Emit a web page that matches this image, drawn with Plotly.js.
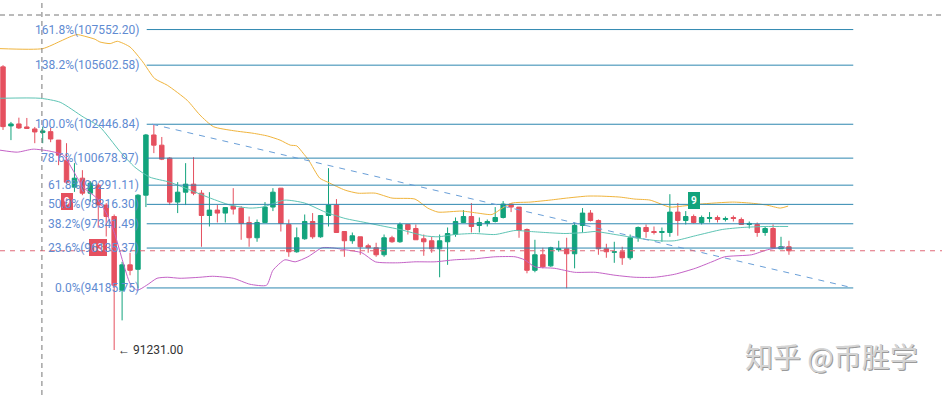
<!DOCTYPE html>
<html><head><meta charset="utf-8">
<script src="https://cdn.plot.ly/plotly-3.0.1.min.js"></script>
<style>html,body{margin:0;padding:0;background:#fff;}#chart{width:942px;height:395px;}</style>
</head><body><div id="chart"></div>
<script>
// ---- candle data (index 0..99) ----
const opens = [105511,102358,102463,102305,102200,102016,102058,101615,100576,99189,
99648,98883,99291,98281,97706,94075,95310,95091,98781,101884,
101351,100679,98432,98934,99342,98883,97756,98028,97877,98230,
98129,97406,96644,97406,98180,99138,97306,95952,96594,97456,
96693,97756,98281,96956,96496,96693,96249,96150,95804,96644,
96446,97306,97106,96594,96496,96100,96446,96806,97406,97706,
97256,97356,97456,97656,98331,98180,97056,95043,95804,95260,
96051,96100,95853,97256,97877,97506,96100,95928,95952,95656,
96644,97156,96956,96906,96906,97927,97506,97706,97406,97606,
97656,97556,97656,97556,97306,97306,96906,97106,96100,96199];
const highs = [105603,102568,102794,102778,102305,102321,102252,101615,101455,100420,
100059,99495,99393,98382,97806,95458,95903,98830,101937,102447,
101779,100731,99444,100420,100731,99036,98934,98281,98180,99138,
98230,97706,97556,98432,99138,99138,97556,97156,97806,97877,
97756,100162,98584,96956,96906,96693,96347,96397,96806,96743,
97406,97306,97306,96806,96693,96806,97156,97656,98028,98382,
97656,97556,98180,98483,98382,98180,97106,96545,96150,96199,
96496,96644,97406,98129,98028,97556,96347,96446,96199,96806,
97206,97306,97206,97156,98832,98382,97978,97806,97756,97927,
97756,97706,97756,97656,97456,97406,97206,97306,96693,96496];
const lows = [102147,101615,102200,102200,101455,101455,101506,100317,99342,98949,
98781,98447,97156,96709,91231,92630,94801,94171,98180,100938,
100576,98281,97877,98281,98781,96199,97206,97406,97406,97806,
96545,96199,96446,97406,97978,96956,95705,95903,96545,96594,
96644,97206,96906,95705,96347,95804,95903,95705,95705,96397,
96397,96806,96545,95755,95903,94704,95310,96693,97406,96906,
96906,97206,97406,97606,97927,96644,94897,94946,95139,95211,
95952,94171,95139,96906,97456,95804,95656,95409,95310,95557,
96446,96644,96806,96446,96693,96743,97306,97356,97306,97406,
97406,97456,97456,97306,97106,96693,96743,96100,96100,95804];
const closes = [102321,102463,102252,102226,102042,102095,101674,100834,99444,99648,
98883,99393,98281,97706,94317,95310,95043,98781,101884,101351,
100627,98432,98934,99342,98883,97756,98028,97877,98154,98079,
97356,96644,97406,98180,98934,97356,95952,96644,97456,96693,
97756,98281,96906,96496,96743,96199,96150,95804,96644,96446,
97306,97056,96545,96446,96100,96496,96856,97456,97706,97206,
97406,97456,97656,98331,98180,97006,95043,95804,95211,96150,
96100,95853,97256,97877,97506,96100,95952,95952,95656,96644,
97156,96956,96906,96956,97927,97506,97706,97406,97656,97656,
97556,97606,97606,97306,97356,96906,97106,96150,96199,96002];

// ---- Bollinger bands (candle index, price) ----
const upperX = [-0.4,5.0,7.2,8.4,9.3,10.3,11.6,12.2,13.5,14.4,16.0,17.6,19.1,20.7,23.2,24.8,26.5,29.0,31.5,33.3,34.9,36.2,37.0,37.8,38.5,39.9,40.9,43.1,44.7,46.9,49.0,51.9,53.5,54.8,57.8,59.8,61.6,62.9,64.1,66.4,68.9,71.0,73.6,75.2,77.7,79.6,81.5,84.0,85.6,87.8,91.9,94.1,96.2,97.9,98.9];
const upperY = [106505,106505,106906,107144,107276,107183,107017,106868,106779,106906,106592,105782,104882,104519,103715,102936,102321,102110,101974,101832,101615,101351,101315,100938,100576,99648,99444,99036,98883,98883,98634,98584,98129,97927,97978,97877,97806,98129,98382,98432,98533,98634,98735,98735,98685,98584,98533,98180,98230,98331,98432,98382,98281,98129,98230];
const middleX = [-0.4,4.7,7.2,10.1,12.2,14.7,16.6,18.5,21.0,23.6,26.1,28.6,31.1,32.7,35.5,38.0,40.6,43.1,45.6,48.1,50.0,53.1,54.8,56.9,59.4,62.0,64.5,66.4,68.3,70.8,73.3,74.6,77.1,79.6,82.5,84.6,87.2,90.6,93.1,96.0,98.9];
const middleY = [103822,103822,103610,102831,102305,101041,100214,99699,99444,99036,98634,98281,98129,98180,98533,98382,97927,97606,97406,97206,97056,96743,96693,96806,96856,96806,97006,96956,96906,96856,96906,96956,96806,96644,96496,96496,96743,97056,97156,97206,97206];
const lowerX = [-0.4,1.8,3.8,5.9,7.6,8.8,10.1,11.8,13.1,14.1,15.1,16.0,16.9,18.1,19.4,20.7,22.3,24.8,26.4,29.0,31.1,33.2,34.0,35.5,36.8,38.4,40.2,41.4,43.1,45.2,46.9,49.7,51.9,54.4,56.9,59.4,62.0,64.5,65.7,67.0,69.5,72.0,74.6,77.1,79.6,82.1,84.6,87.2,89.3,90.9,94.3,96.3,98.5];
const lowerY = [101093,100989,101144,101041,100834,100059,99189,98634,97806,96806,95458,94413,94075,94317,94655,94704,94655,94704,94752,94655,94365,94317,95043,95557,95458,95705,96150,96150,96051,95903,95458,95409,95458,95458,95557,95606,95705,95705,95557,95211,95139,94946,94946,94801,94704,94704,94849,95139,95458,95705,95804,96051,96199];

// ---- Fibonacci retracement ----
const fibLabels = ['161.8%','138.2%','100.0%','78.6%','61.8%','50.0%','38.2%','23.6%','0.0%'];
const fibPrices = [107552.20,105602.58,102446.84,100678.97,99291.11,98316.30,97341.49,96135.37,94185.75];
const fibStart = 18.1, fibEnd = 107.1, trendStart = 18.8;

const lowLabel = '← 91231.00';
const lowIndex = 14, lowPrice = 91231;
const tdMarks = [
  {i: 8, p: 98483, t: '9', c: '#e5505f'},
  {i: 12, p: 96175, t: '13', c: '#e5505f'},
  {i: 87, p: 98533, t: '9', c: '#12a37c'}
];
const cursorIndex = 4.9;
const lastPrice = closes[closes.length - 1];

const idx = opens.map((_, i) => i);
const GREEN = '#12a37c', RED = '#e5505f';

const traces = [
  {type:'scatter', mode:'lines', x: upperX, y: upperY, line:{color:'#f0b43c', width:1, shape:'spline', smoothing:0.6}, hoverinfo:'skip'},
  {type:'scatter', mode:'lines', x: middleX, y: middleY, line:{color:'#5ec4b4', width:1, shape:'spline', smoothing:0.6}, hoverinfo:'skip'},
  {type:'scatter', mode:'lines', x: lowerX, y: lowerY, line:{color:'#c462c6', width:1, shape:'spline', smoothing:0.6}, hoverinfo:'skip'},
  {type:'candlestick', x: idx, open: opens, high: highs, low: lows, close: closes,
   increasing:{line:{color:GREEN, width:1}, fillcolor:GREEN},
   decreasing:{line:{color:RED, width:1}, fillcolor:RED},
   whiskerwidth:0, hoverinfo:'skip'}
];

const shapes = [];
fibPrices.forEach(p => shapes.push({type:'line', xref:'x', yref:'y', x0:fibStart, x1:fibEnd, y0:p, y1:p, line:{color:'#2e87b0', width:1}}));
shapes.push({type:'line', xref:'x', yref:'y', x0:trendStart, x1:fibEnd, y0:fibPrices[2], y1:fibPrices[8], line:{color:'#6a9fd8', width:1, dash:'6px,6px'}});
shapes.push({type:'line', xref:'paper', yref:'y', x0:0, x1:1, y0:lastPrice, y1:lastPrice, line:{color:'#e06a78', width:1, dash:'5px,5px'}});
shapes.push({type:'line', xref:'x', yref:'paper', x0:cursorIndex, x1:cursorIndex, y0:0, y1:1, line:{color:'#777', width:1, dash:'5px,4px'}});
shapes.push({type:'line', xref:'paper', yref:'paper', x0:0, x1:1, y0:0.962, y1:0.962, line:{color:'#777', width:1, dash:'5px,4px'}});

const annotations = [];
tdMarks.forEach(m => annotations.push({x:m.i, y:Math.log10(m.p), xref:'x', yref:'y', text:'<b>'+m.t+'</b>', showarrow:false,
  bgcolor:m.c, bordercolor:m.c, borderpad:2, font:{family:'Roboto, sans-serif', size:10, color:'#fff'}}));
fibLabels.forEach((l, k) => annotations.push({x:fibStart, y:Math.log10(fibPrices[k]), xref:'x', yref:'y', xanchor:'right', yanchor:'middle', xshift:-6,
  text: l + '(' + fibPrices[k].toFixed(2) + ')', showarrow:false, font:{family:'Roboto, sans-serif', size:12, color:'#5f8bd2'}}));
annotations.push({x:lowIndex, y:Math.log10(lowPrice), xref:'x', yref:'y', xanchor:'left', yanchor:'middle', xshift:2, text: lowLabel, showarrow:false,
  font:{family:'Roboto, sans-serif', size:12, color:'#333'}});
annotations.push({x:0.883, y:0.10, xref:'paper', yref:'paper', xanchor:'center', yanchor:'middle', xshift:1, yshift:-1, text:'知乎 @币胜学', showarrow:false,
  font:{family:'Noto Sans CJK SC, sans-serif', size:28, color:'#9a9a9a'}});
annotations.push({x:0.883, y:0.10, xref:'paper', yref:'paper', xanchor:'center', yanchor:'middle', text:'知乎 @币胜学', showarrow:false,
  font:{family:'Noto Sans CJK SC, sans-serif', size:28, color:'#d4d4d4'}});

const layout = {
  width:942, height:395, margin:{l:0, r:0, t:0, b:0},
  paper_bgcolor:'#fff', plot_bgcolor:'#fff', showlegend:false, boxgap:0.2,
  xaxis:{range:[-0.38, 118.28], showgrid:false, zeroline:false, showticklabels:false, ticks:'', rangeslider:{visible:false}, fixedrange:true},
  yaxis:{type:'log', range:[4.950105, 5.038212], showgrid:false, zeroline:false, showticklabels:false, ticks:'', fixedrange:true},
  shapes: shapes, annotations: annotations, hovermode:false
};
Plotly.newPlot('chart', traces, layout, {staticPlot:true, displayModeBar:false});
</script></body></html>
